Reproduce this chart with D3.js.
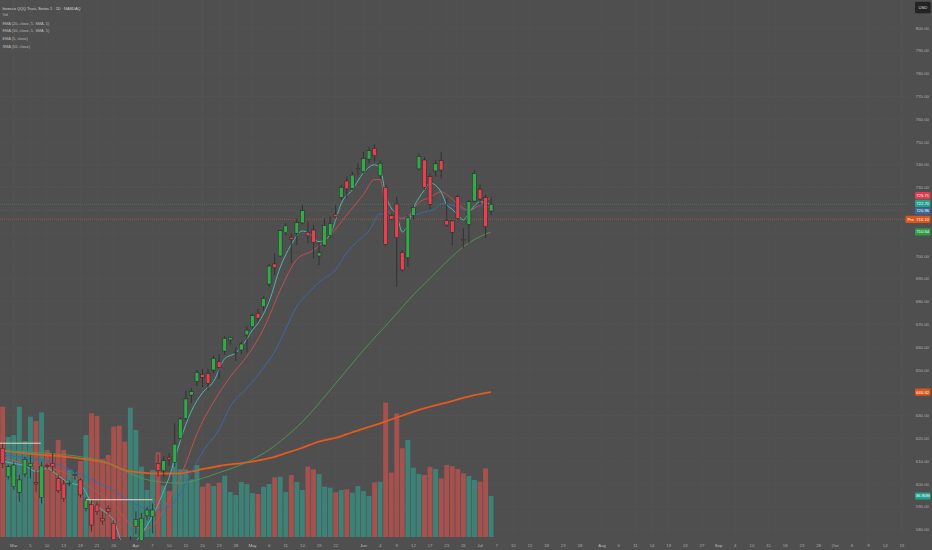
<!DOCTYPE html>
<html>
<head>
<meta charset="utf-8">
<script src="https://cdn.jsdelivr.net/npm/d3@7"></script>
<style>
html, body { margin:0; padding:0; background:#4f4f4f; overflow:hidden; }
text { font-family:"Liberation Sans", Arial, sans-serif; }
</style>
</head>
<body>
<div id="chart"></div>
<script>
/////////////////////////////////////////////////////////////////
///////////////////////// data //////////////////////////////////
/////////////////////////////////////////////////////////////////
var opens = [615.7,603.2,598.8,596.4,604.4,607.6,600.6,594,608.1,609.1,
  602.5,600,600.2,603.8,601.8,589.3,591.1,590.8,585,589.3,
  582.8,574,570,558,581.3,572,586,585.7,609.1,605.8,
  611.7,609.4,620,628.8,639,645,648.1,648.5,650,653.6,
  658.3,663.2,657.5,658.8,665.4,669,674.9,677.8,687.7,696.5,
  700,710.2,708.2,710,714.5,710.2,711.4,700,704.8,708.9,
  718.3,725.7,732.9,729.7,738.1,737,742.5,747.2,735.2,730.1,
  717.7,722.8,701.6,699.3,717.7,738.2,742.1,734.8,737.3,741.8,
  715.5,715.4,726,707.2,713.9,724.1,729.3,725.6,719.7];
var closes = [609.1,607.6,608.3,601.8,610.8,609.1,600,607.9,607.7,607.6,
  597,593.7,600.4,604.1,595.2,593,582,587.9,583.8,587.9,
  575.5,566,560,566,584.5,585,588.6,588.6,605.8,610.2,
  610.8,617.5,628.5,637.3,640.5,649,646.8,644.2,655.1,651.2,
  663.9,664.3,657.8,661.4,667.5,673.8,672.7,681.4,695.6,694.9,
  711.1,713.2,707.3,714.6,719.9,708.9,706,701.4,713.4,714.3,
  717.2,730.1,729.4,735.5,738.3,742.8,746.2,744,740.7,705.1,
  716.1,708,693.9,716.9,721.2,743.7,730,722.7,740.4,737.7,
  713.6,710.4,716.5,706.8,723.8,736.2,725,712.9,722.7];
var highs = [618,608.5,609.5,604,612,612.7,606,609.8,609,613.7,
  604,601.8,601.5,606,602.5,594.3,593,592.3,587.9,590.5,
  584,576,573,577,588,587.3,590,591.5,613,612,
  613.5,626.6,629.3,641,642,650,650.5,650.5,656.3,657,
  664.9,664.6,660,662.5,669,674.8,676.8,682.4,696.4,701.2,
  711.4,714.3,710,716.5,722.4,715,713.6,706,716.5,717.2,
  722.4,731.1,734.8,737,740.7,745.7,747.8,749,741.8,731.1,
  718.7,726,702.6,718,722.4,745,743.3,736.3,742.1,745.7,
  725.3,715.8,726.8,712.1,724.6,737.7,731.4,726.8,726];
var lows = [607,602,597.5,592.2,603,602.5,596.6,591.5,606.5,605.4,
  596,592.2,599,601.8,594,588,579.1,586.5,582,586.5,
  573,562,555,550,578,568,584,578.4,603.2,603.2,
  608,607.6,619.5,628,635.5,643,642.5,641,648.5,646,
  656.7,661,654,657,657.7,668.2,671,676,686.5,691.7,
  699.6,709.2,696.8,704.8,714,705.6,699,696,704,707.8,
  716.5,724.6,725.3,728.9,735.5,736.3,740.8,741.4,734,704.5,
  715.8,686.5,693.1,695.3,715.8,737.6,729,720.4,735,734.1,
  712.9,704.8,715.8,703.4,705.6,723.8,722.4,707.8,718];
// volume, millions
var volumes = [117.3,90,91.8,117.3,86.4,108.3,104.4,112.2,78.3,75.3,
  87.3,78.3,60.3,58.8,68.4,91.8,111.3,108.9,70.2,73.8,
  99.3,100.2,85.8,116.4,96.3,63.3,42.3,60.3,76.2,46.2,
  41.4,82.8,60.9,60.9,51.9,64.8,45.3,48.3,45.9,48.9,
  55.2,40.5,37.8,49.5,47.7,39.6,38.7,45.3,47.7,53.7,
  54.3,40.5,55.8,49.5,42.3,63.3,60.9,56.7,45.3,44.4,
  40.2,42.3,42.9,39.9,45.9,41.4,36.9,49.2,49.8,120.9,
  57.9,111.3,79.8,87.3,62.4,56.7,55.8,63,61.2,52.8,
  64.8,63.9,61.2,57.3,54.9,51.3,49.8,61.8,36.9];

// moving averages: [bar, value]
var ema5Pts = [[0,610],[2,609],[4,608],[6,605.5],[8,606.8],[10,603.7],[12,600.4],[14,599.5],[16,592],[18,588.5],
  [20,584],[22,572],[24,575],[26,581.7],[28,591],[29,597],[30,603],[31,611],[32,619],[34,632],[36,640],[38,645],
  [40,655],[42,657.5],[43,660],[45,667.5],[46,670.5],[48,680],[50,695],[52,705],[54,711],[55,710.2],[57,706.3],
  [59,709.2],[60,716],[61,723],[63,729],[65,736.5],[67,740],[68,738.5],[69,727],[70,721],[71,718],[72,710.5],
  [73,714],[74,721],[75,725.5],[76,729],[77,732],[78,731],[79,728],[80,722.5],[81,720.5],[82,718],[83,715.8],
  [84,719],[85,722],[86,723.8],[88,722.4]];
var ema10Pts = [[0,611.5],[4,609],[8,607.5],[12,604],[16,598],[20,591],[22,585],[24,581],[26,580.5],[28,584.5],
  [29,589],[31,598],[33,609],[35,622],[38,636],[41,647],[44,656],[47,668],[50,685],[53,698.5],[56,702.6],[59,709],
  [62,718],[65,727],[67,733.5],[68,733.5],[69,722],[70,718],[71,716.8],[72,716.6],[73,717.5],[75,723.5],[77,725.7],
  [79,728.2],[80,727],[82,722.8],[83,721],[84,720.2],[86,722.4],[88,725.71]];
var ema20Pts = [[0,613],[4,611.5],[8,610],[12,606.5],[16,602],[20,597],[24,591],[27,588.5],[30,590],[32,596],
  [34,605],[36,614],[39,624],[41,634],[44,642],[47,651],[49,658],[51,668],[53,678],[55,683.5],[57,688.5],[58,690.2],
  [60,694],[62,701.5],[64,706.5],[66,711],[68,718.5],[69,718],[71,716.5],[72,716.3],[74,717.8],[76,719.3],[78,720.8],
  [79,723],[80,722.8],[82,721.5],[84,719.7],[86,722],[88,720.96]];
var sma50Pts = [[0,614.5],[8,613.5],[14,612],[18,610],[21,607],[25,602.6],[28,601],[32,600.4],[35,601.8],[39,605],
  [42,607.5],[45,610.8],[48,615],[51,620.7],[54,627.3],[58,638.3],[62,650],[66,661.5],[70,672],[74,683],[77,690.2],
  [80,697.5],[83,704],[86,708.5],[88,710.54]];
var longMaPts = [[0,614.6],[5,613.2],[11,612],[16,610.5],[19,609.1],[22,606.1],[25,605],[28,604.6],[32,604.7],[35,606],
  [39,607.9],[45,609.8],[48,611.3],[51,613.5],[54,615.9],[57,618.6],[60,620.2],[63,622.7],[68,626.6],[70,628.3],
  [75,632.5],[81,636.4],[85,639],[88,640.32]];

var preMarket = 716.1;
// hand drawn levels on the chart
var drawLevels = [617.9, 593.1];
var drawFrom = [-1, 15];
var drawTo = [6.85, 27];

var tickLabels = ["Mar","5","10","13","18","21","26","Apr","7","10","15","20","23","28","May","6","11","14","19","22",
  "Jun","4","9","12","17","23","26","Jul","7","10","15","18","23","28","Aug","6","11","14","19","24","27",
  "Sep","4","10","15","18","23","28","Oct","6","9","14","19"];
var tickBars = [2,5,8,11,14,17,20,24,27,30,33,36,39,42,45,48,51,54,57,60,
  65,68,71,74,77,80,83,86,89,92,95,98,101,104,108,111,114,117,120,123,126,
  129,132,135,138,141,144,147,150,153,156,159,162];
var priceTicks = d3.range(580, 801, 10);

var legendLines = ["Invesco QQQ Trust, Series 1 \u00b7 1D \u00b7 NASDAQ","Vol","EMA (20, close, 5, SMA, 5)",
  "EMA (10, close, 5, SMA, 5)","EMA (5, close)","SMA (50, close)"];

/////////////////////////////////////////////////////////////////
///////////////////////// globals ///////////////////////////////
/////////////////////////////////////////////////////////////////
var wdim = 932, hdim = 550;
var paneRight = 908, paneBottom = 540, volBase = 537;
var upCol = "#35a84a", downCol = "#e3434e", edgeCol = "#262626";
var volUp = "#3e8177", volDown = "#a5524f";

var x = d3.scaleLinear().domain([0, 163]).range([2.7, 2.7 + 5.55 * 163]);
var y = d3.scaleLinear().domain([580, 800]).range([529.6, 28]);
var yv = d3.scaleLinear().domain([0, 120.9]).range([volBase, 402.7]);
var svg;

function build_canvas(){
	svg = d3.select("#chart").append("svg")
		.attr("width", wdim)
		.attr("height", hdim);
	svg.append("rect").attr("width", wdim).attr("height", hdim).attr("fill", "#4f4f4f");
	svg.append("clipPath").attr("id", "pane")
		.append("rect").attr("x", 0).attr("y", 0).attr("width", paneRight).attr("height", paneBottom);
}

/////////////////////////////////////////////////////////////////
///////////////////////// grid //////////////////////////////////
/////////////////////////////////////////////////////////////////
function draw_grid(){
	var g = svg.append("g").attr("class", "grid");
	g.selectAll(".hgrid").data(priceTicks).enter().append("line")
		.attr("x1", 0).attr("x2", paneRight)
		.attr("y1", function(d){ return y(d); }).attr("y2", function(d){ return y(d); })
		.attr("stroke", "#565656").attr("stroke-width", 0.6);
	g.selectAll(".vgrid").data(tickBars).enter().append("line")
		.attr("x1", function(d){ return x(d); }).attr("x2", function(d){ return x(d); })
		.attr("y1", 0).attr("y2", paneBottom)
		.attr("stroke", "#545454").attr("stroke-width", 0.6);
}

/////////////////////////////////////////////////////////////////
///////////////////////// volume + candles //////////////////////
/////////////////////////////////////////////////////////////////
function draw_volume(){
	svg.append("g").attr("clip-path", "url(#pane)")
		.selectAll("rect").data(volumes).enter().append("rect")
		.attr("x", function(d,i){ return x(i) - 2.45; })
		.attr("width", 4.9)
		.attr("y", function(d){ return yv(d); })
		.attr("height", function(d){ return volBase - yv(d); })
		.attr("fill", function(d,i){ return closes[i] >= opens[i] ? volUp : volDown; });
}

function draw_lines(){
	var line = d3.line()
		.x(function(d){ return x(d[0]); })
		.y(function(d){ return y(d[1]); })
		.curve(d3.curveMonotoneX);
	var g = svg.append("g").attr("clip-path", "url(#pane)").attr("fill", "none");

	// price lines across the pane
	g.append("line").attr("x1", 0).attr("x2", paneRight)
		.attr("y1", y(preMarket)).attr("y2", y(preMarket))
		.attr("stroke", "#b8683a").attr("stroke-width", 0.6).attr("stroke-dasharray", "1,1");
	g.append("line").attr("x1", 0).attr("x2", paneRight)
		.attr("y1", y(closes[closes.length-1])).attr("y2", y(closes[closes.length-1]))
		.attr("stroke", "#3d8a72").attr("stroke-width", 0.6).attr("stroke-dasharray", "1,1");

	var series = [
		{pts: longMaPts, col: "#e8591e", w: 1.8},
		{pts: sma50Pts, col: "#4c9a57", w: 0.9},
		{pts: ema20Pts, col: "#3f66a8", w: 1},
		{pts: ema10Pts, col: "#c24f50", w: 1},
		{pts: ema5Pts, col: "#52b5b0", w: 1}
	];
	g.selectAll("path").data(series).enter().append("path")
		.attr("d", function(d){ return line(d.pts); })
		.attr("stroke", function(d){ return d.col; })
		.attr("stroke-width", function(d){ return d.w; });
}

function draw_candles(){
	var g = svg.append("g").attr("clip-path", "url(#pane)");
	var c = g.selectAll(".candle").data(opens).enter().append("g").attr("class", "candle");
	c.append("line")
		.attr("x1", function(d,i){ return x(i); }).attr("x2", function(d,i){ return x(i); })
		.attr("y1", function(d,i){ return y(highs[i]); })
		.attr("y2", function(d,i){ return y(lows[i]); })
		.attr("stroke", "#2a2a2a").attr("stroke-width", 0.8);
	c.append("rect")
		.attr("x", function(d,i){ return x(i) - 1.9; })
		.attr("width", 3.8)
		.attr("y", function(d,i){ return y(Math.max(opens[i], closes[i])); })
		.attr("height", function(d,i){ return Math.max(0.8, Math.abs(y(opens[i]) - y(closes[i]))); })
		.attr("fill", function(d,i){ return closes[i] >= opens[i] ? upCol : downCol; })
		.attr("stroke", edgeCol).attr("stroke-width", 0.5);

	// drawings
	g.selectAll(".draw").data(drawLevels).enter().append("line")
		.attr("x1", function(d,i){ return x(drawFrom[i]); })
		.attr("x2", function(d,i){ return x(drawTo[i]); })
		.attr("y1", function(d){ return y(d); }).attr("y2", function(d){ return y(d); })
		.attr("stroke", "#e3d8bd").attr("stroke-width", 1);
}

/////////////////////////////////////////////////////////////////
///////////////////////// axes + labels /////////////////////////
/////////////////////////////////////////////////////////////////
function spread(labels, gap){
	labels.sort(function(a,b){ return a.y - b.y; });
	for(var k = 0; k < 60; k++){
		for(var j = 0; j < labels.length - 1; j++){
			var dd = labels[j+1].y - labels[j].y;
			if(dd < gap){
				labels[j].y -= (gap - dd) / 2;
				labels[j+1].y += (gap - dd) / 2;
			}
		}
	}
	return labels;
}

function draw_axes(){
	var last = closes.length - 1;
	var fmt = d3.format(".2f");
	var labels = spread([
		{v: ema10Pts[ema10Pts.length-1][1], col: "#df3a4b", y: y(ema10Pts[ema10Pts.length-1][1])},
		{v: closes[last], col: "#1fa38d", y: y(closes[last])},
		{v: ema20Pts[ema20Pts.length-1][1], col: "#3b6798", y: y(ema20Pts[ema20Pts.length-1][1])},
		{v: preMarket, col: "#dc5619", y: y(preMarket), pre: true},
		{v: sma50Pts[sma50Pts.length-1][1], col: "#2f9a45", y: y(sma50Pts[sma50Pts.length-1][1])}
	], 7.6);
	labels.push({v: longMaPts[longMaPts.length-1][1], col: "#dc5619", y: y(longMaPts[longMaPts.length-1][1])});
	labels.push({v: volumes[last], col: "#1fa38d", y: yv(volumes[last]), vol: true});

	var ax = svg.append("g").attr("class", "yaxis");
	ax.selectAll("text").data(priceTicks.filter(function(p){
			return labels.every(function(l){ return Math.abs(l.y - y(p)) > 6; });
		}))
		.enter().append("text")
		.attr("x", 929).attr("y", function(d){ return y(d); })
		.attr("dy", "0.35em").attr("text-anchor", "end")
		.style("font-size", "4.3px").attr("fill", "#b0b0b0")
		.text(function(d){ return fmt(d); });

	var lb = svg.append("g").selectAll("g").data(labels).enter().append("g")
		.attr("transform", function(d){ return "translate(0," + d.y + ")"; });
	lb.append("rect")
		.attr("x", function(d){ return d.pre ? 905.5 : 915; })
		.attr("width", function(d){ return d.pre ? 25 : 15.5; })
		.attr("y", -3.6).attr("height", 7.2).attr("rx", 1)
		.attr("fill", function(d){ return d.col; });
	lb.append("text")
		.attr("x", 922.7).attr("dy", "0.35em").attr("text-anchor", "middle")
		.style("font-size", "4.2px").attr("fill", "#ffffff")
		.text(function(d){ return d.vol ? fmt(d.v) + "M" : fmt(d.v); });
	lb.filter(function(d){ return d.pre; }).append("text")
		.attr("x", 907.5).attr("dy", "0.35em")
		.style("font-size", "4.2px").attr("fill", "#ffffff").text("Pre");

	// currency box
	svg.append("rect").attr("x", 915).attr("y", 1.7).attr("width", 15.7).attr("height", 11.6)
		.attr("rx", 1.5).attr("fill", "#232323");
	svg.append("text").attr("x", 922.8).attr("y", 7.5).attr("dy", "0.35em")
		.attr("text-anchor", "middle").style("font-size", "4.2px").attr("fill", "#dddddd").text("USD");

	// date axis
	svg.append("g").selectAll("text").data(tickLabels).enter().append("text")
		.attr("x", function(d,i){ return x(tickBars[i]); })
		.attr("y", 545).attr("dy", "0.35em").attr("text-anchor", "middle")
		.style("font-size", "4.3px")
		.attr("fill", function(d){ return isNaN(+d) ? "#bdbdbd" : "#aaaaaa"; })
		.text(function(d){ return d; });
}

function draw_legend(){
	var ly = [8.3, 14.3, 23.3, 31, 39, 46.7];
	svg.append("g").selectAll("text").data(legendLines).enter().append("text")
		.attr("x", 2.5).attr("y", function(d,i){ return ly[i]; })
		.attr("dy", "0.35em")
		.style("font-size", "3.9px")
		.attr("fill", function(d,i){ return i == 0 ? "#d4d4d4" : "#bdbdbd"; })
		.text(function(d){ return d; });
}

function main(){
	build_canvas();
	draw_grid();
	draw_volume();
	draw_lines();
	draw_candles();
	draw_axes();
	draw_legend();
}
main();
</script>
</body>
</html>
